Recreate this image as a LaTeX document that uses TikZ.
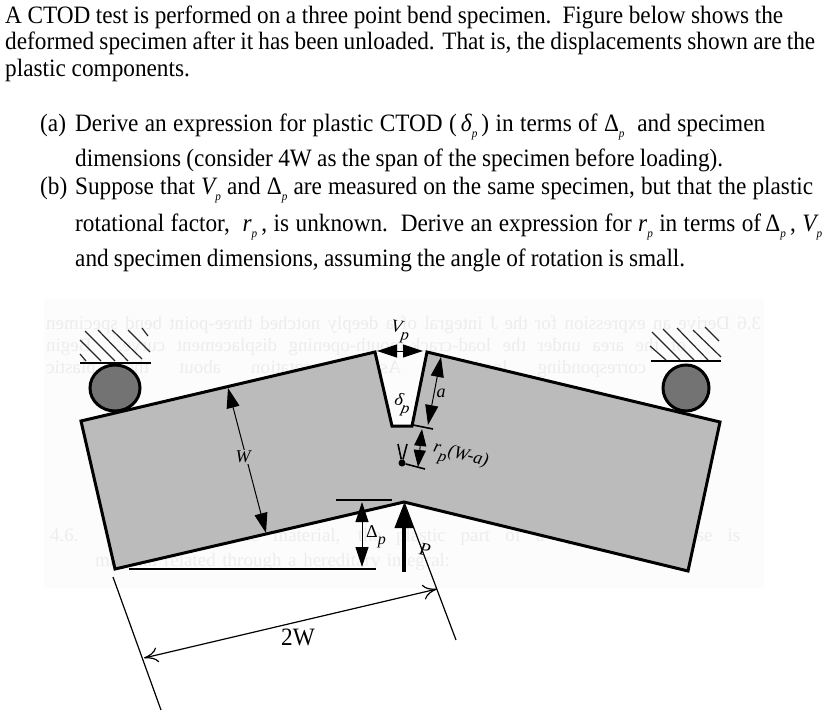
\documentclass[tikz,border=0pt]{standalone}
\usepackage{graphicx}
\usepackage{fontspec}
\setmainfont[FakeStretch=0.93]{Liberation Serif}
\newfontfamily\labfont{Liberation Serif}
\usetikzlibrary{arrows.meta}
\definecolor{panelc}{HTML}{FCFCFC}
\definecolor{ghostc}{HTML}{EDEDED}
\definecolor{platec}{HTML}{BBBBBB}
\definecolor{rollc}{HTML}{737373}
\newcommand{\sbp}{\raisebox{-6pt}{\fontsize{12}{12}\selectfont\itshape p}}
\newcommand{\lbp}{\raisebox{-7pt}{\fontsize{16}{16}\selectfont\itshape p}}
\newcommand{\fitline}[2]{\makebox[#1pt][s]{#2}}
\tikzset{
  bodytext/.style={anchor=base west,inner sep=0pt,font=\fontsize{25}{25}\selectfont},
  ghost/.style={anchor=base west,inner sep=0pt,text=ghostc,font=\labfont\fontsize{19}{19}\selectfont},
  lab/.style={inner sep=0pt,font=\labfont\fontsize{18}{18}\selectfont\itshape},
  outline/.style={line width=3pt,line join=miter},
  hatchline/.style={line width=1.2pt,black!85},
  tick/.style={line width=1.6pt},
  dimarrow/.style={line width=1pt,{Triangle[length=20pt,width=13pt]}-{Triangle[length=20pt,width=13pt]}},
  thindim/.style={line width=1.2pt},
}
\begin{document}
\begin{tikzpicture}[x=1pt,y=-1pt]
\useasboundingbox (0,0) rectangle (827,715);
% page body
\node[bodytext] (t1) at (5,23) {\fitline{778}{A CTOD test is performed on a three point bend specimen.\ \ Figure below shows the}};
\node[bodytext] (t2) at (5,49) {\fitline{810}{deformed specimen after it has been unloaded. That is, the displacements shown are the}};
\node[bodytext] (t3) at (5,76) {plastic components.};
\node[bodytext] (t4) at (40,131) {\makebox[35pt][l]{(a)}\fitline{690}{Derive an expression for plastic CTOD (\,{\itshape δ}\sbp\,) in terms of Δ\sbp\ \ and specimen}};
\node[bodytext] (t5) at (75,166) {\fitline{648}{dimensions (consider 4W as the span of the specimen before loading).}};
\node[bodytext] (t6) at (40,194) {\makebox[35pt][l]{(b)}\fitline{738}{Suppose that {\itshape V}\sbp\ and Δ\sbp\ are measured on the same specimen, but that the plastic}};
\node[bodytext] (t7) at (75,231) {\fitline{747}{rotational factor,\ \ {\itshape r}\sbp\,, is unknown.\ \ Derive an expression for {\itshape r}\sbp\ in terms of\,Δ\sbp\,, {\itshape V}\sbp}};
\node[bodytext] (t8) at (75,266) {\fitline{610}{and specimen dimensions, assuming the angle of rotation is small.}};
% scanned panel with show-through
\fill[panelc] (44,298) rectangle (764,588);
\node[ghost] (g1) at (46,329) {\reflectbox{\fitline{715}{3.6 Derive an expression for the J integral of a deeply notched three-point bend specimen}}};
\node[ghost] (g2) at (46,351) {\reflectbox{\fitline{640}{of the area under the load-crack-mouth-opening displacement curve. Begin}}};
\node[ghost] (g3) at (46,373) {\reflectbox{\fitline{600}{corresponding load P. Assume rotation about the plastic}}};
\node[ghost] (g4) at (50,541) {\fitline{690}{4.6. In a viscoelastic material, the plastic part of a specimen response is}};
\node[ghost] (g5) at (95,566) {\fitline{355}{material related through a hereditary integral:}};
% specimen
\coordinate (tl) at (81,421);
\coordinate (nl) at (375,352);
\coordinate (bl1) at (392,426);
\coordinate (br1) at (412,426);
\coordinate (nr) at (427,352);
\coordinate (trc) at (720,422);
\coordinate (brc) at (688,571);
\coordinate (peak) at (404,502);
\coordinate (blc) at (115,569);
\draw[outline,fill=platec] (tl) -- (nl) -- (bl1) -- (br1) -- (nr) -- (trc) -- (brc) -- (peak) -- (blc) -- cycle;
% left support
\coordinate (la) at (80,363); \coordinate (lb) at (151,363);
\draw[line width=2.7pt] (la) -- (lb);
\foreach \xa/\ya/\xb/\yb in {80/354/86/361,80/340/101/361,85/331/115/361,98/330/128/361,112/330/142/359,128/330/150/352,142/328/148/336}
  \draw[hatchline] (\xa,\ya) -- (\xb,\yb);
\draw[line width=3pt,fill=rollc] (115,388) ellipse [x radius=25,y radius=23];
% right support
\coordinate (ra) at (651,361); \coordinate (rb) at (721,361);
\draw[line width=2.7pt] (ra) -- (rb);
\foreach \xa/\ya/\xb/\yb in {650/346/666/360,652/332/680/360,663/329/694/360,677/328/708/360,693/330/721/357,705/327/719/341}
  \draw[hatchline] (\xa,\ya) -- (\xb,\yb);
\draw[line width=3pt,fill=rollc] (686,388) circle [radius=23];
% V_p
\coordinate (vl) at (377,351); \coordinate (vr) at (423,351);
\draw[dimarrow] (vl) -- (vr);
\node[lab,rotate=-8] (vp) at (400,332) {V\lbp};
% delta_p
\node[lab,rotate=-12] (dp) at (402,405) {δ\lbp};
% a
\coordinate (aa) at (441,357); \coordinate (ab) at (428,425);
\draw[dimarrow] (aa) -- (ab);
\node[lab] (alab) at (441,393) {a};
\coordinate (tk1) at (413,425); \coordinate (tk2) at (433,429);
\draw[tick] (tk1) -- (tk2);
% r_p(W-a)
\coordinate (rm) at (420,448); \coordinate (ru) at (422,429); \coordinate (rd) at (418,467);
\draw[line width=1pt,-{Triangle[length=17pt,width=12pt]}] (rm) -- (ru);
\draw[line width=1pt,-{Triangle[length=17pt,width=12pt]}] (rm) -- (rd);
\node[circle,fill=black,inner sep=0pt,minimum size=7pt] (dot) at (402,463) {};
\coordinate (tk3) at (425,469);
\draw[tick] (dot) -- (tk3);
\coordinate (vv1) at (398,444); \coordinate (vv2) at (407,444);
\draw[tick] (vv1) -- (dot) -- (vv2);
\node[lab,rotate=-15] (rw) at (460,458) {r\lbp(W-a)};
% W
\coordinate (wa) at (228,388); \coordinate (wb) at (266,533);
\draw[dimarrow] (wa) -- (wb);
\node[lab,fill=platec,inner sep=1pt] (wlab) at (243,457) {W};
% Delta_p
\coordinate (u1) at (336,500); \coordinate (u2) at (392,500);
\coordinate (b1) at (129,569); \coordinate (b2) at (376,569);
\draw[tick] (u1) -- (u2);
\draw[line width=2pt] (b1) -- (b2);
\coordinate (da) at (362,502); \coordinate (db) at (362,567);
\draw[dimarrow] (da) -- (db);
\node[lab] (dlab) at (376,537) {\upshape Δ\lbp};
% P
\coordinate (pa) at (404,572); \coordinate (pb) at (404,503);
\draw[line width=4pt,-{Triangle[length=25pt,width=18pt]}] (pa) -- (pb);
\node[lab,rotate=-10] (plab) at (425,550) {P};
% 2W dimension
\coordinate (e1) at (456,640);
\draw[thindim] (peak) -- (e1);
\coordinate (e2) at (113,577); \coordinate (e3) at (161,710);
\draw[thindim] (e2) -- (e3);
\coordinate (d1) at (144,658); \coordinate (d2) at (437,589);
\draw[thindim,{To[length=14pt,width=15pt]}-{To[length=14pt,width=15pt]}] (d1) -- (d2);
\node[inner sep=1pt,fill=white,font=\fontsize{25}{25}\selectfont] (twow) at (298,637) {2W};
\end{tikzpicture}
\end{document}
